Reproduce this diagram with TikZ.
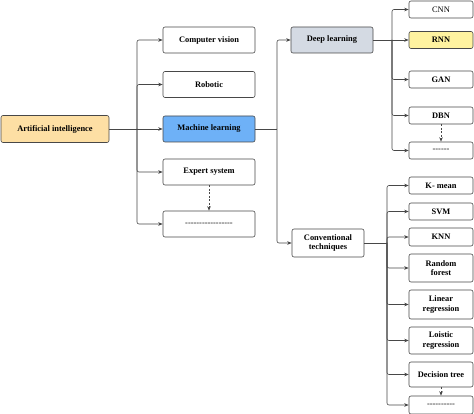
\documentclass[tikz,border=0pt]{standalone}
\usepackage{fontspec}
\setmainfont{Liberation Serif}
\usetikzlibrary{arrows.meta,positioning}

\definecolor{aicolor}{HTML}{FDDFA4}
\definecolor{mlcolor}{HTML}{6EB1F7}
\definecolor{dlcolor}{HTML}{D4DAE3}
\definecolor{rnncolor}{HTML}{FFF3A0}
\definecolor{linecolor}{HTML}{484848}

% a row of single hyphens, no ligatures
\newcommand{\hyphenrow}[1]{\foreach \i in {1,...,#1}{-}}

\tikzset{
    box/.style={draw=linecolor,rounded corners=2pt,fill=white,align=center,
        inner sep=1pt,font=\fontsize{8.4}{9.4}\selectfont\bfseries,line width=0.6pt},
    plainbox/.style={box,font=\fontsize{8.4}{9.4}\selectfont},
    link/.style={draw=linecolor,line width=0.6pt,rounded corners=2pt,
        -{Stealth[length=4.5pt,width=3.5pt]}},
    dashlink/.style={link,dash pattern=on 2pt off 1.5pt},
}

\begin{document}
\begin{tikzpicture}[x=1pt,y=-1pt]
            \useasboundingbox (0,0) rectangle (474,414);

            % first level
            \node[box,fill=aicolor,minimum width=108pt,minimum height=27pt] (art_intel) at (55,129) {Artificial intelligence};

            \node[box,minimum width=92pt,minimum height=26pt] (comp_vision) at (209,40) {Computer vision};
            \node[box,minimum width=92pt,minimum height=26pt] (robotic) at (209,84.5) {Robotic};
            \node[box,fill=mlcolor,minimum width=92pt,minimum height=26pt] (mach_learn) at (209,129) {Machine learning};
            \node[box,minimum width=92pt,minimum height=26pt] (exp_sys) at (209,172) {Expert system};
            \node[plainbox,minimum width=92pt,minimum height=26pt] (more_ai) at (209,224) {\hyphenrow{17}};

            \coordinate (bus_ai) at (137,129);
            \path[link] (art_intel) -- (mach_learn);
            \path[link] (bus_ai) |- (comp_vision);
            \path[link] (bus_ai) |- (robotic);
            \path[link] (bus_ai) |- (exp_sys);
            \path[link] (bus_ai) |- (more_ai);
            \path[dashlink] (exp_sys) -- (more_ai);

            % machine learning
            \node[box,fill=dlcolor,minimum width=82pt,minimum height=26pt] (deep_learn) at (332,40) {Deep learning};
            \node[box,minimum width=72pt,minimum height=28pt] (conv_tech) at (328,243) {Conventional\\techniques};

            \coordinate (bus_ml) at (277,129);
            \draw[draw=linecolor,line width=0.6pt] (mach_learn) -- (bus_ml);
            \path[link] (bus_ml) |- (deep_learn);
            \path[link] (bus_ml) |- (conv_tech);

            % deep learning
            \node[plainbox,minimum width=64pt,minimum height=17pt] (cnn) at (441,9.5) {CNN};
            \node[box,fill=rnncolor,minimum width=64pt,minimum height=17pt] (rnn) at (441,40) {RNN};
            \node[box,minimum width=64pt,minimum height=17pt] (gan) at (441,79.5) {GAN};
            \node[box,minimum width=64pt,minimum height=17pt] (dbn) at (441,115.5) {DBN};
            \node[plainbox,minimum width=64pt,minimum height=17pt] (more_dl) at (441,150.5) {\hyphenrow{6}};

            \coordinate (bus_dl) at (392,40);
            \path[link] (deep_learn) -- (rnn);
            \path[link] (bus_dl) |- (cnn);
            \path[link] (bus_dl) |- (gan);
            \path[link] (bus_dl) |- (dbn);
            \path[link] (bus_dl) |- (more_dl);
            \path[dashlink] (dbn) -- (more_dl);

            % conventional techniques
            \node[box,minimum width=64pt,minimum height=17pt] (k_mean) at (441,185.5) {K- mean};
            \node[box,minimum width=64pt,minimum height=17pt] (svm) at (441,211.5) {SVM};
            \node[box,minimum width=64pt,minimum height=18pt] (knn) at (441,237) {KNN};
            \node[box,minimum width=64pt,minimum height=28pt] (rand_forest) at (441,268) {Random\\forest};
            \node[box,minimum width=64pt,minimum height=29pt] (lin_reg) at (441,304.5) {Linear\\regression};
            \node[box,minimum width=64pt,minimum height=27pt] (log_reg) at (441,340.5) {Loistic\\regression};
            \node[box,minimum width=64pt,minimum height=25pt] (dec_tree) at (441,374.5) {Decision tree};
            \node[plainbox,minimum width=64pt,minimum height=18pt] (more_ct) at (441,405) {\hyphenrow{10}};

            \coordinate (bus_ct) at (387,243);
            \draw[draw=linecolor,line width=0.6pt] (conv_tech) -- (bus_ct);
            \foreach \n in {k_mean,svm,knn,rand_forest,lin_reg,log_reg,dec_tree,more_ct}
                \path[link] (bus_ct) |- (\n);
            \path[dashlink] (dec_tree) -- (more_ct);
        \end{tikzpicture}
\end{document}
